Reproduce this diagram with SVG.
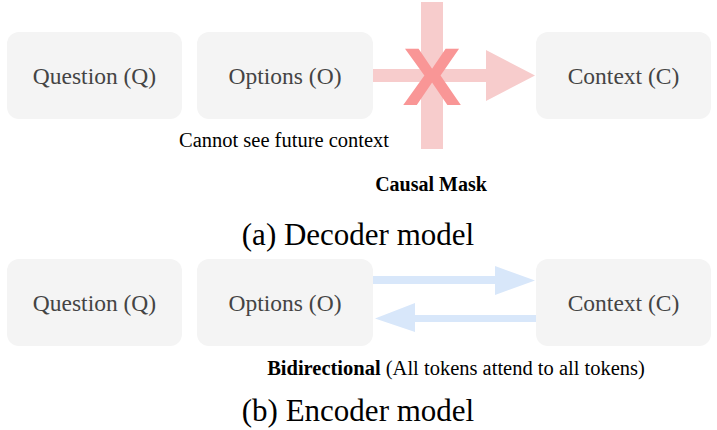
<svg xmlns="http://www.w3.org/2000/svg" width="717" height="430" viewBox="0 0 717 430">
<style>
.box{fill:#f4f4f4}
.lbl{font-family:"Liberation Serif",serif;font-size:23.5px;fill:#444;text-anchor:middle}
.t{font-family:"Liberation Serif",serif;fill:#000}
</style>
<rect width="717" height="430" fill="#fff"/>
<g id="connectors">
<rect x="421" y="2" width="22" height="147" fill="#f7cccc"/>
<polygon points="373,69 486,69 486,50 535,75.5 486,101 486,82 373,82" fill="#f7cccc"/>
<text x="432" y="105" font-family="Liberation Sans,sans-serif" font-weight="bold" font-size="82" fill="#f99696" text-anchor="middle" transform="translate(432 0) scale(1.08 1) translate(-432 0)">X</text>
<polygon points="373,276 495,276 495,266 535,280.5 495,295 495,284 373,284" fill="#d8e7fa"/>
<polygon points="537,315 415,315 415,303 375,318.5 415,332 415,322 537,322" fill="#d8e7fa"/>
</g>
<g id="q1"><rect class="box" x="7" y="32" width="175" height="87" rx="12"/><text class="lbl" x="94.5" y="84">Question (Q)</text></g>
<g id="o1"><rect class="box" x="197" y="32" width="176" height="87" rx="12"/><text class="lbl" x="285" y="84">Options (O)</text></g>
<g id="c1"><rect class="box" x="536" y="32" width="175" height="87" rx="12"/><text class="lbl" x="623.5" y="84">Context (C)</text></g>
<g id="q2"><rect class="box" x="7" y="259" width="175" height="87" rx="12"/><text class="lbl" x="94.5" y="311">Question (Q)</text></g>
<g id="o2"><rect class="box" x="197" y="259" width="176" height="87" rx="12"/><text class="lbl" x="285" y="311">Options (O)</text></g>
<g id="c2"><rect class="box" x="536" y="259" width="175" height="87" rx="12"/><text class="lbl" x="623.5" y="311">Context (C)</text></g>
<text class="t" x="284" y="147" font-size="20.5" text-anchor="middle">Cannot see future context</text>
<text class="t" x="431" y="191" font-size="20" font-weight="bold" text-anchor="middle">Causal Mask</text>
<text class="t" x="358" y="245" font-size="31" text-anchor="middle">(a) Decoder model</text>
<text class="t" x="456" y="375" font-size="20.5" text-anchor="middle"><tspan font-weight="bold">Bidirectional</tspan> (All tokens attend to all tokens)</text>
<text class="t" x="358" y="421" font-size="31" text-anchor="middle">(b) Encoder model</text>
</svg>
